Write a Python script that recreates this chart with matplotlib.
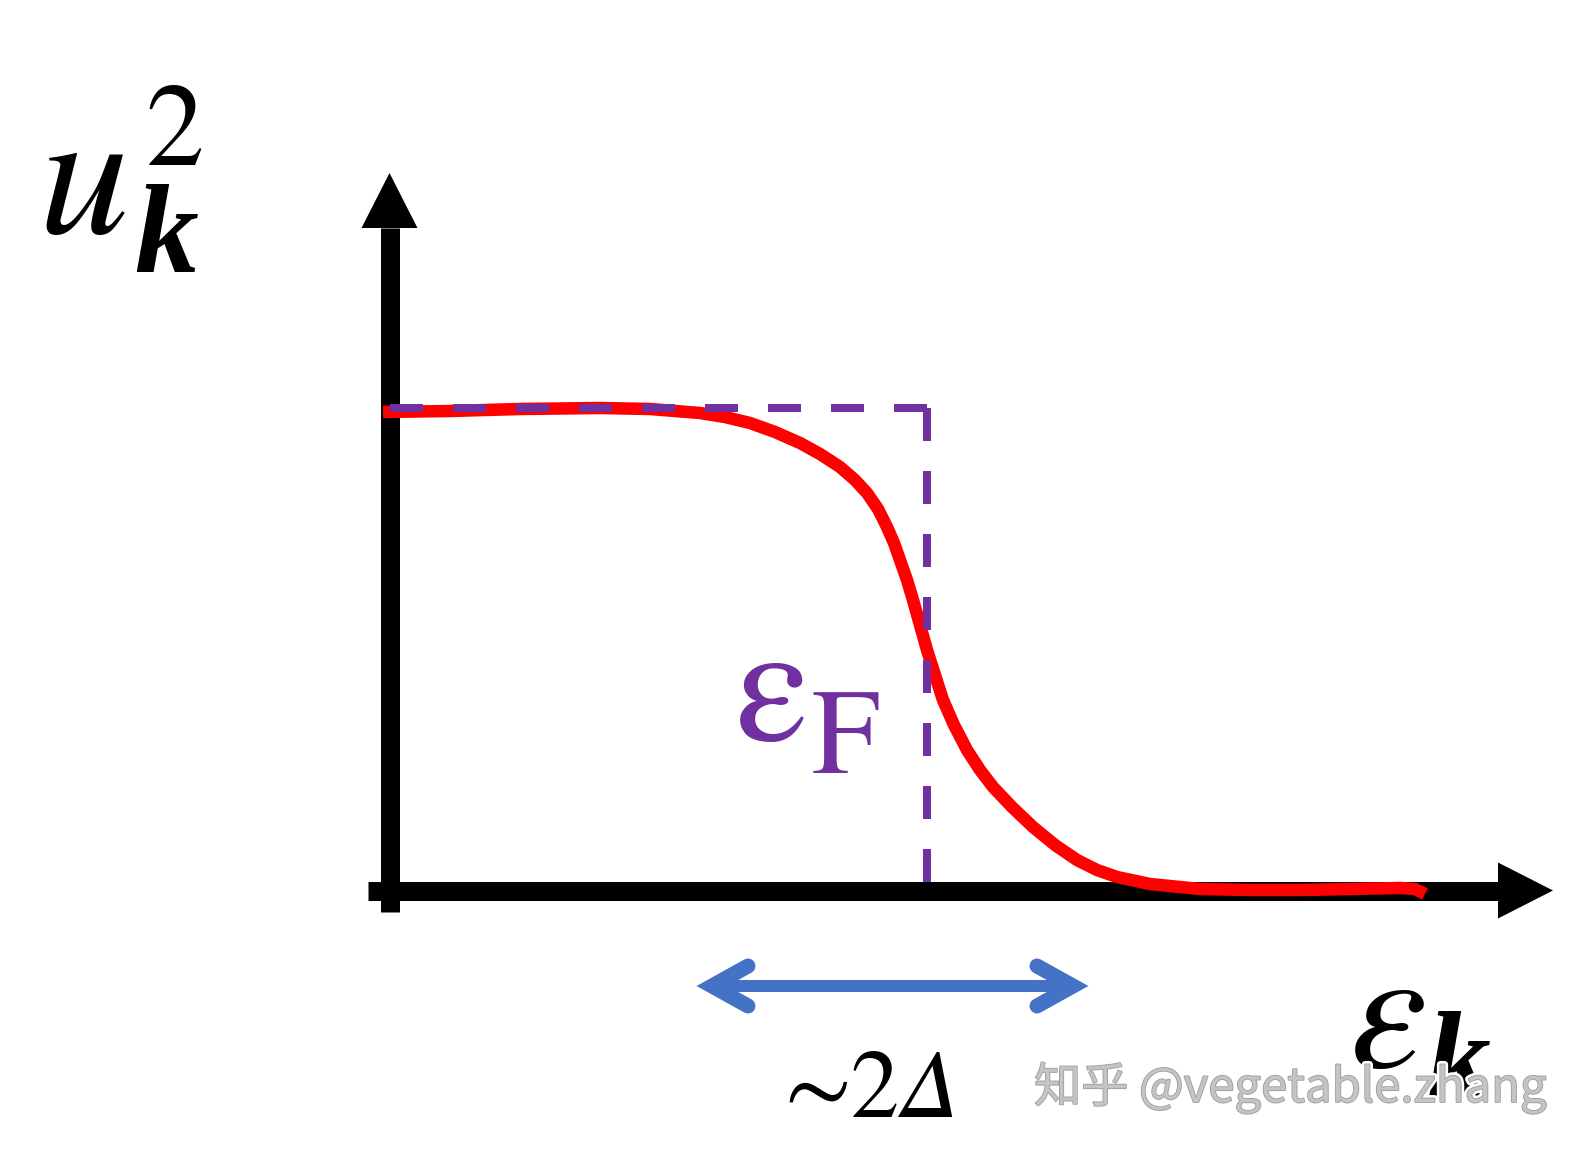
import matplotlib
matplotlib.use('Agg')
import matplotlib.pyplot as plt
import matplotlib.patheffects as pe

plt.rcParams['lines.scale_dashes'] = False

PX = 72 / 100.0  # points per pixel at dpi 100
SERIF = 'STIXGeneral'
BOLD_SERIF = 'Liberation Serif'

# 坐标数据（像素坐标，y 向下）
curve_x = [383, 450, 520, 600, 650, 700, 725, 750, 775, 800, 820, 840, 855, 867,
           878, 887, 894, 900, 907, 913, 920, 927, 935, 943, 954, 967, 980, 993,
           1012, 1033, 1055, 1077, 1097, 1117, 1150, 1200, 1250, 1300, 1350,
           1400, 1415, 1425]
curve_y = [412, 411, 409, 408, 409, 413, 417, 423, 432, 443, 454, 467, 480, 493,
           509, 527, 543, 560, 580, 600, 625, 650, 675, 700, 725, 750, 770, 787,
           807, 827, 845, 860, 870, 877, 884, 889, 890, 890, 889,
           888, 889, 894]

step_x = [927, 388]          # 水平虚线 (从拐角向左)
step_top = 408
step_bottom = 885

yaxis_x, yaxis_bottom, yaxis_head_base, yaxis_tip = 389.5, 912, 228, 173
xaxis_y, xaxis_left, xaxis_head_base, xaxis_tip = 890.5, 368, 1498, 1553
head_half = 28

gap_left, gap_right, gap_y = 712, 1073, 986
arm_dx, arm_dy = 36, 20

fig = plt.figure(figsize=(15.84, 11.62), dpi=100)
ax = fig.add_axes([0, 0, 1, 1])
ax.set_xlim(0, 1584)
ax.set_ylim(1162, 0)
ax.axis('off')

# 坐标轴
ax.plot([yaxis_x, yaxis_x], [yaxis_bottom, yaxis_head_base], color='black',
        lw=19 * PX, solid_capstyle='butt', zorder=1)
ax.fill([yaxis_x - head_half, yaxis_x + head_half, yaxis_x],
        [yaxis_head_base, yaxis_head_base, yaxis_tip], color='black', lw=0, zorder=1)
ax.plot([xaxis_left, xaxis_head_base], [xaxis_y, xaxis_y], color='black',
        lw=19 * PX, solid_capstyle='butt', zorder=1)
ax.fill([xaxis_head_base, xaxis_head_base, xaxis_tip],
        [xaxis_y - head_half, xaxis_y + head_half, xaxis_y], color='black', lw=0, zorder=1)

# 红色曲线
ax.plot(curve_x, curve_y, color='#ff0000', lw=12.5 * PX, solid_capstyle='butt',
        solid_joinstyle='round', zorder=2)

# 紫色虚线阶跃
dash = (33 * PX, 30 * PX)
ax.plot(step_x, [step_top, step_top], color='#7030a0', lw=8 * PX,
        dashes=dash, dash_capstyle='butt', zorder=3)
ax.plot([step_x[0], step_x[0]], [step_top, step_bottom], color='#7030a0', lw=8 * PX,
        dashes=dash, dash_capstyle='butt', zorder=3)

# 蓝色双箭头
blue = '#4472c4'
ax.plot([gap_left, gap_right], [gap_y, gap_y], color=blue, lw=12 * PX,
        solid_capstyle='butt', zorder=3)
for tip, sgn in [(gap_left, 1), (gap_right, -1)]:
    ax.plot([tip + sgn * arm_dx, tip, tip + sgn * arm_dx],
            [gap_y - arm_dy, gap_y, gap_y + arm_dy], color=blue, lw=15 * PX,
            solid_capstyle='round', solid_joinstyle='miter', zorder=3)

# 文字: u_k^2
ax.text(38, 233, 'u', family=SERIF, style='italic', fontsize=130, va='baseline')
ax.text(146, 165, '2', family=SERIF, fontsize=84, va='baseline')
ax.text(134, 272, 'k', family=BOLD_SERIF, style='italic', weight='bold', fontsize=92,
        va='baseline')

# ε_F
purple = '#7030a0'
ax.text(736, 740, 'ε', family=SERIF, fontsize=120, color=purple, va='baseline')
ax.text(812, 773, 'F', family=SERIF, fontsize=88, color=purple, va='baseline')

# ε_k
ax.text(1350, 1067, 'ε', family=SERIF, style='italic', fontsize=125, va='baseline')
ax.text(1426, 1099, 'k', family=BOLD_SERIF, style='italic', weight='bold', fontsize=92,
        va='baseline', zorder=5)

# ~2Δ
ax.text(784, 1117, '∼2', family=SERIF, fontsize=70, va='baseline')
ax.text(900, 1117, 'Δ', family=SERIF, style='italic', fontsize=70, va='baseline')

# 水印
ax.text(1034, 1102, '知乎 @vegetable.zhang', fontsize=34, color='#c4c4c4',
        family=['Noto Sans CJK SC', 'DejaVu Sans'], va='baseline', ha='left',
        zorder=10,
        path_effects=[pe.Stroke(linewidth=5, foreground='white'),
                      pe.Stroke(linewidth=1.2, foreground='#9c9c9c'),
                      pe.Normal()])

fig.savefig('out.png', dpi=100)
